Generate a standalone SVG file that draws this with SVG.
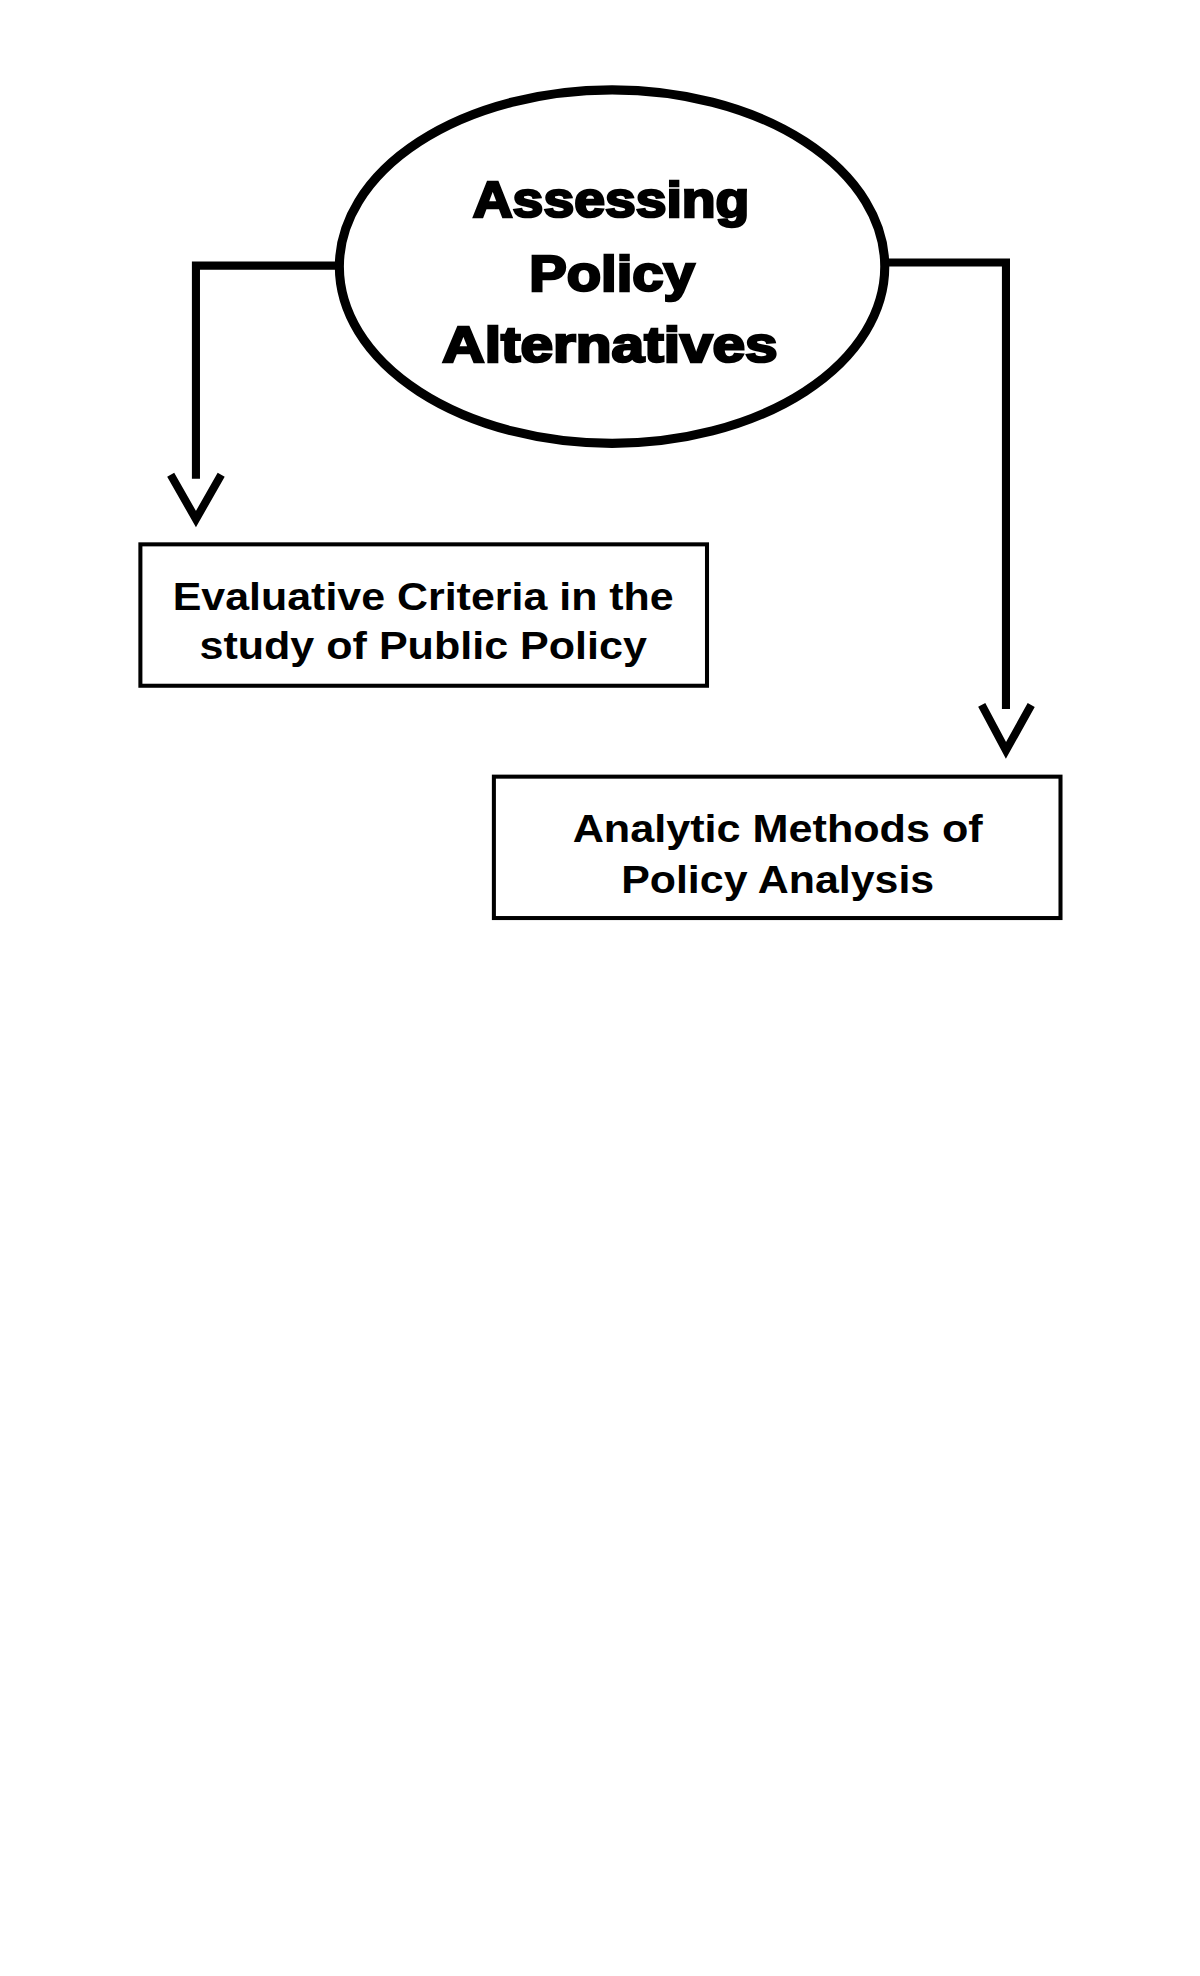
<svg xmlns="http://www.w3.org/2000/svg" width="1200" height="1976" viewBox="0 0 1200 1976">
<style>
.ln{fill:none;stroke:#000;stroke-width:8;stroke-linejoin:miter}
.box{fill:#fff;stroke:#000;stroke-width:4}
.t{font-family:"Liberation Sans",Arial,sans-serif;font-weight:bold;text-anchor:middle;fill:#000}
.big{font-size:50px;stroke:#000;stroke-width:2.5}
.sm{font-size:38px}
</style>
<rect width="1200" height="1976" fill="#fff"/>
<g transform="translate(0,4) scale(1.01)">
<g id="connectors">
<polyline class="ln" points="336,259 194,259 194,470"/>
<polyline class="ln" points="169,466 194,510 219,466"/>
<polyline class="ln" points="877,256 996,256 996,698"/>
<polyline class="ln" points="972,694 996,739 1021,694"/>
</g>
<g id="n1">
<ellipse cx="606" cy="260" rx="270" ry="175" fill="#fff" stroke="#000" stroke-width="9"/>
<text class="t big" x="605" y="211" textLength="274" lengthAdjust="spacingAndGlyphs">Assessing</text>
<text class="t big" x="606" y="284" textLength="164" lengthAdjust="spacingAndGlyphs">Policy</text>
<text class="t big" x="604" y="354" textLength="332" lengthAdjust="spacingAndGlyphs">Alternatives</text>
</g>
<g id="n2">
<rect class="box" x="139" y="535" width="561" height="140"/>
<text class="t sm" x="419" y="600" textLength="496" lengthAdjust="spacingAndGlyphs">Evaluative Criteria in the</text>
<text class="t sm" x="419" y="649" textLength="443" lengthAdjust="spacingAndGlyphs">study of Public Policy</text>
</g>
<g id="n3">
<rect class="box" x="489" y="765" width="561" height="140"/>
<text class="t sm" x="770" y="830" textLength="406" lengthAdjust="spacingAndGlyphs">Analytic Methods of</text>
<text class="t sm" x="770" y="880" textLength="310" lengthAdjust="spacingAndGlyphs">Policy Analysis</text>
</g>
</g>
</svg>
